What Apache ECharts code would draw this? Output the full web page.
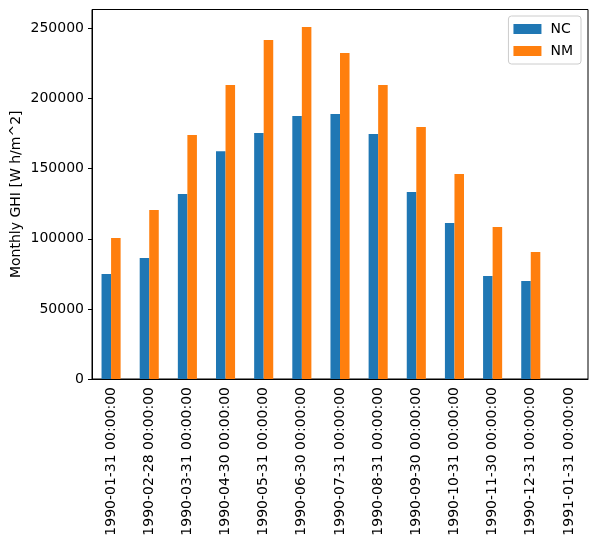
<!DOCTYPE html>
<html>
<head>
<meta charset="utf-8">
<script src="https://cdn.jsdelivr.net/npm/echarts@6/dist/echarts.min.js"></script>
<style>
  html, body { margin: 0; padding: 0; background: #fff; }
  #chart { width: 597px; height: 545px; }
</style>
</head>
<body>
<div id="chart"></div>
<script>
  // monthly totals
  const months = ['1990-01-31 00:00:00', '1990-02-28 00:00:00', '1990-03-31 00:00:00',
    '1990-04-30 00:00:00', '1990-05-31 00:00:00', '1990-06-30 00:00:00',
    '1990-07-31 00:00:00', '1990-08-31 00:00:00', '1990-09-30 00:00:00',
    '1990-10-31 00:00:00', '1990-11-30 00:00:00', '1990-12-31 00:00:00',
    '1991-01-31 00:00:00'];
  const ncValues = [74900, 86300, 131900, 162500, 175400, 187500, 188900, 174700, 133300, 111200, 73400, 69900, 0];
  const nmValues = [100500, 120500, 174000, 209600, 241700, 251000, 232400, 209600, 179700, 146200, 108400, 90500, 0];
  const yTicks = [0, 50000, 100000, 150000, 200000, 250000];

  const font = 'DejaVu Sans';
  let chart = echarts.init(document.getElementById('chart'));
  let option = {
    animation: false,
    color: ['#1f77b4', '#ff7f0e'],
    textStyle: { fontFamily: font },
    grid: {
      left: 92, right: 9, top: 9.5, bottom: 166,
      show: true, borderColor: '#000', borderWidth: 1,
      containLabel: false, outerBoundsMode: 'none'
    },
    legend: {
      orient: 'vertical',
      right: 16, top: 16,
      itemWidth: 28, itemHeight: 10, itemGap: 8,
      icon: 'rect',
      padding: [6, 8, 6, 5],
      borderColor: '#ccc', borderWidth: 1, borderRadius: 3,
      textStyle: { fontFamily: font, fontSize: 14, color: '#000', padding: [0, 0, 0, 4] },
      data: ['NC', 'NM']
    },
    xAxis: {
      type: 'category',
      data: months,
      axisLine: { lineStyle: { color: '#000', width: 1 } },
      axisTick: { alignWithLabel: true, length: 4, lineStyle: { color: '#000' } },
      axisLabel: {
        rotate: 90, interval: 0, margin: 8,
        color: '#000', fontFamily: font, fontSize: 14
      }
    },
    yAxis: {
      type: 'value',
      min: yTicks[0], max: 263500, interval: 50000,
      name: 'Monthly GHI [W h/m^2]',
      nameLocation: 'middle', nameGap: 69, nameMoveOverlap: false,
      nameTextStyle: { color: '#000', fontFamily: font, fontSize: 14 },
      splitLine: { show: false },
      axisLine: { show: true, lineStyle: { color: '#000', width: 1 } },
      axisTick: { show: true, length: 4, lineStyle: { color: '#000' } },
      axisLabel: {
        margin: 8, color: '#000', fontFamily: font, fontSize: 14,
        showMaxLabel: false,
        formatter: v => String(v)
      }
    },
    series: [
      { name: 'NC', type: 'bar', data: ncValues, barWidth: '25%', barGap: '0%' },
      { name: 'NM', type: 'bar', data: nmValues, barWidth: '25%', barGap: '0%' }
    ]
  };
  chart.setOption(option);
</script>
</body>
</html>
